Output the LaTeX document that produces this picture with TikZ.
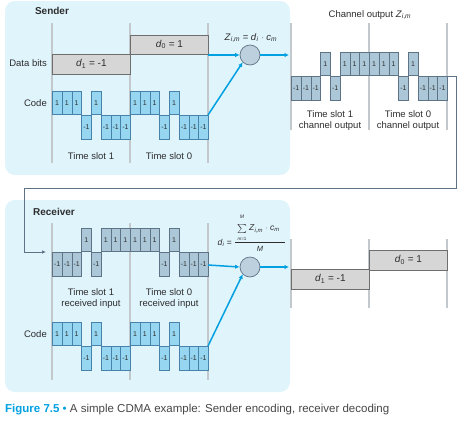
\documentclass[tikz,border=0pt]{standalone}
\usepackage{amsmath}
\usepackage{fontspec}
\setmainfont{Liberation Sans}
\usetikzlibrary{arrows.meta}
\definecolor{bgblue}{RGB}{224,244,252}
\definecolor{codefill}{RGB}{150,214,240}
\definecolor{codeedge}{RGB}{70,130,170}
\definecolor{chanfill}{RGB}{172,200,216}
\definecolor{chanedge}{RGB}{95,115,135}
\definecolor{datafill}{RGB}{214,214,214}
\definecolor{dataedge}{RGB}{110,110,110}
\definecolor{arrowblue}{RGB}{0,160,225}
\definecolor{slotline}{RGB}{195,200,205}
\definecolor{txt}{RGB}{45,45,45}
\definecolor{captxt}{RGB}{70,70,70}
\definecolor{circfill}{RGB}{188,208,222}
\newcommand{\chiprow}[5]{%
  \foreach \v [count=\k from 0] in {#4} {%
    \pgfmathsetmacro\xa{#2+\k*9.75}%
    \ifnum\v>0 \def\anc{south west}\else\def\anc{north west}\fi
    \node[#5, anchor=\anc] (#1\k) at (\xa,#3) {\v};
  }}
\newcommand{\mysub}[1]{\textsubscript{#1}}
\begin{document}
\begin{tikzpicture}[x=1pt,y=-1pt,
  panel/.style={fill=bgblue, draw=none, rounded corners=10pt},
  chipbase/.style={draw, line width=0.6pt, minimum width=9.75pt, minimum height=23.5pt, inner sep=0pt, font=\fontsize{7}{8}\selectfont, text=txt},
  codechip/.style={chipbase, fill=codefill, draw=codeedge},
  chanchip/.style={chipbase, fill=chanfill, draw=chanedge},
  databox/.style={draw=dataedge, fill=datafill, line width=0.7pt, inner sep=0pt, minimum height=19.5pt, minimum width=78pt, font=\fontsize{10}{11}\selectfont, text=txt},
  slot/.style={draw=slotline, line width=1.8pt},
  lab/.style={font=\fontsize{9.5}{11}\selectfont, text=txt, inner sep=0pt, align=center},
  flab/.style={font=\fontsize{8.5}{10}\selectfont, text=txt, inner sep=0pt},
  tiny/.style={font=\fontsize{5}{5}\selectfont, text=txt, inner sep=0pt},
  title/.style={font=\bfseries\fontsize{10}{12}\selectfont, text=txt, inner sep=0pt},
  bluearrow/.style={draw=arrowblue, line width=1.5pt, -{Latex[length=4.5pt,width=4.5pt]}},
  mixer/.style={circle, draw=chanedge, fill=circfill, line width=0.7pt, minimum size=20pt, inner sep=0pt},
  feed/.style={draw=chanedge, line width=0.7pt}
]
\useasboundingbox (0,0) rectangle (474,429);

% panels
\fill[panel] (5,1) rectangle (290,175);
\fill[panel] (5,200) rectangle (290,392);

% ---------- sender ----------
\node[title] (sender) at (52,11) {Sender};
\foreach \x in {52,130,208} \draw[slot] (\x,23) -- (\x,163);
\node[databox, anchor=north west] (sd1) at (52,54) {\textit{d}\mysub{1} = -1};
\node[databox, anchor=north west] (sd0) at (130,34.5) {\textit{d}\mysub{0} = 1};
\node[lab, anchor=east] (databits) at (47,63) {Data bits};
\node[lab, anchor=east] (scode) at (47,103) {Code};
\chiprow{sc}{52}{115}{1,1,1,-1,1,-1,-1,-1,1,1,1,-1,1,-1,-1,-1}{codechip}
\node[lab] (sts1) at (91,156) {Time slot 1};
\node[lab] (sts0) at (169,156) {Time slot 0};
\node[mixer] (smix) at (250,55) {};
\node[lab] (sform) at (251,38) {\textit{Z}\mysub{\textit{i},\textit{m}} = \textit{d}\mysub{\textit{i}} $\cdot$ \textit{c}\mysub{\textit{m}}};
\coordinate (sdend) at (208,55);
\coordinate (scend) at (208,115);
\coordinate (sout) at (289,55);
\draw[bluearrow] (sdend) -- (smix.west);
\draw[bluearrow] (scend) -- (smix.south west);
\draw[bluearrow] (smix.east) -- (sout);

% ---------- channel ----------
\node[lab] (chtitle) at (370,15) {Channel output \textit{Z}\mysub{\textit{i},\textit{m}}};
\foreach \x in {291,369,447} \draw[slot] (\x,23) -- (\x,130);
\chiprow{ch}{291}{76}{-1,-1,-1,1,-1,1,1,1,1,1,1,-1,1,-1,-1,-1}{chanchip}
\node[lab] (cts1) at (330,121) {Time slot 1\\channel output};
\node[lab] (cts0) at (408,121) {Time slot 0\\channel output};

% feedback line
\coordinate (f1) at (456,76);
\coordinate (f2) at (456,188);
\coordinate (f3) at (24,188);
\coordinate (f4) at (24,252);
\coordinate (f5) at (46,252);
\draw[feed] (ch15.north east) -- (f1) -- (f2) -- (f3) -- (f4);
\draw[feed, -{Latex[length=4pt,width=3.5pt]}] (f4) -- (f5);

% ---------- receiver ----------
\node[title] (receiver) at (54,212) {Receiver};
\foreach \x in {52,130,208} \draw[slot] (\x,223) -- (\x,380);
\chiprow{rx}{52}{252}{-1,-1,-1,1,-1,1,1,1,1,1,1,-1,1,-1,-1,-1}{chanchip}
\node[lab] (rts1) at (91,299) {Time slot 1\\received input};
\node[lab] (rts0) at (169,299) {Time slot 0\\received input};
\node[lab, anchor=east] (rcode) at (47,334) {Code};
\chiprow{rc}{52}{346}{1,1,1,-1,1,-1,-1,-1,1,1,1,-1,1,-1,-1,-1}{codechip}
\node[mixer] (rmix) at (250,267) {};
% decoding formula
\node[flab, anchor=east] (rdi) at (232,243) {\textit{d}\mysub{\textit{i}} =};
\node[flab, font=\fontsize{9}{10}\selectfont] (rsum) at (242,228.5) {$\sum$};
\node[tiny] (rsup) at (242,217) {\textit{M}};
\node[tiny, font=\fontsize{4.5}{5}\selectfont] (rsub) at (242,238.5) {\textit{m}=1};
\node[flab, anchor=west] (rnum) at (249,229) {\textit{Z}\mysub{\textit{i},\textit{m}} $\cdot$ \textit{c}\mysub{\textit{m}}};
\coordinate (barl) at (235,242);
\coordinate (barr) at (285,242);
\draw[draw=txt, line width=0.5pt] (barl) -- (barr);
\node[flab, font=\fontsize{7.5}{8}\selectfont] (rden) at (260,249) {\textit{M}};
\coordinate (rrend) at (208,265);
\coordinate (rcend) at (208,346);
\coordinate (rout) at (289,267);
\draw[bluearrow] (rrend) -- (rmix.west);
\draw[bluearrow] (rcend) -- (rmix.south west);
\draw[bluearrow] (rmix.east) -- (rout);

% output data
\foreach \x in {291,369,447} \draw[slot] (\x,239) -- (\x,308);
\node[databox, anchor=north west] (rd1) at (291,269) {\textit{d}\mysub{1} = -1};
\node[databox, anchor=north west] (rd0) at (369,250) {\textit{d}\mysub{0} = 1};

% caption
\node[anchor=west, inner sep=0pt, font=\fontsize{11.5}{13}\selectfont, text=captxt] (caption) at (5,410)
  {\textcolor{arrowblue}{\textbf{Figure 7.5}} \textcolor{arrowblue}{\textbullet} A simple CDMA example: Sender encoding, receiver decoding};
\end{tikzpicture}
\end{document}
